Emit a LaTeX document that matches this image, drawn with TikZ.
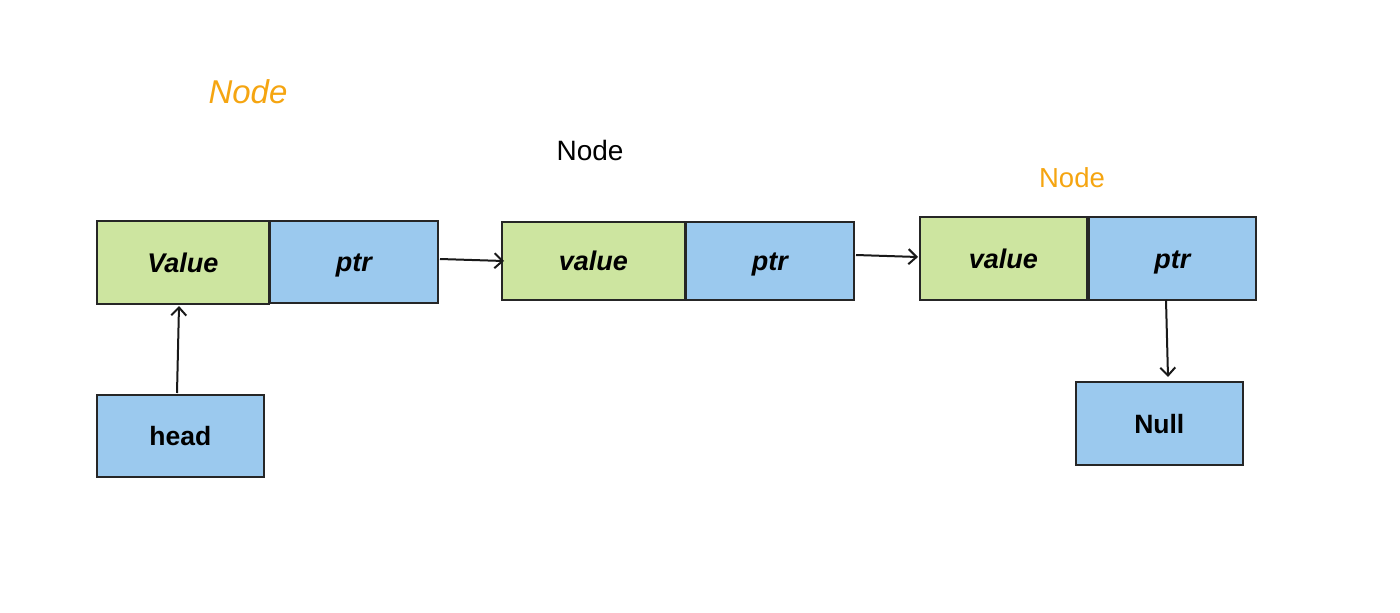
\documentclass[tikz,border=0pt]{standalone}
\usepackage{fontspec}
\setmainfont{Liberation Sans}
\usetikzlibrary{arrows.meta}
\definecolor{cgreen}{HTML}{CDE5A0}
\definecolor{cblue}{HTML}{9BC9EE}
\definecolor{corange}{HTML}{F5A511}
\begin{document}
\begin{tikzpicture}[x=1pt,y=-1pt,
  cell/.style={draw=black!85,line width=1.6pt,inner sep=0pt,anchor=north west,text height=20pt,text depth=0pt,font=\fontsize{27}{27}\selectfont\bfseries\itshape},
  gcell/.style={cell,fill=cgreen},
  bcell/.style={cell,fill=cblue},
  plain/.style={cell,fill=cblue,font=\fontsize{26.5}{26.5}\selectfont\bfseries},
  link/.style={draw=black!90,line width=2pt,-{Straight Barb[length=8pt,width=15pt,line width=2pt]}}
]
\useasboundingbox (0,0) rectangle (1400,613);
\node[gcell,minimum width=172pt,minimum height=83pt] (v1) at (96,220) {Value};
\node[bcell,minimum width=168pt,minimum height=82pt] (p1) at (269,220) {ptr};
\node[gcell,minimum width=183pt,minimum height=78pt] (v2) at (501,221) {value};
\node[bcell,minimum width=168pt,minimum height=78pt] (p2) at (685,221) {ptr};
\node[gcell,minimum width=167pt,minimum height=83pt] (v3) at (919,216) {value};
\node[bcell,minimum width=167pt,minimum height=83pt] (p3) at (1088,216) {ptr};
\node[plain,minimum width=167pt,minimum height=82pt] (hd) at (96,394) {head};
\node[plain,minimum width=167pt,minimum height=83pt] (nl) at (1075,381) {Null};
\node[text=corange,font=\fontsize{33}{33}\selectfont\itshape] (n1) at (248,92) {Node};
\node[text=black,font=\fontsize{28}{28}\selectfont] (n2) at (590,150) {Node};
\node[text=corange,font=\fontsize{27.5}{27.5}\selectfont] (n3) at (1072,178) {Node};
\coordinate (a1s) at (440,259);
\coordinate (a1e) at (504,261);
\coordinate (a2s) at (856,255);
\coordinate (a2e) at (918,257);
\coordinate (a3s) at (1166,300);
\coordinate (a3e) at (1168,377);
\coordinate (a4s) at (177,393);
\coordinate (a4e) at (179,306);
\draw[link] (a1s) -- (a1e);
\draw[link] (a2s) -- (a2e);
\draw[link] (a3s) -- (a3e);
\draw[link] (a4s) -- (a4e);
\end{tikzpicture}
\end{document}
